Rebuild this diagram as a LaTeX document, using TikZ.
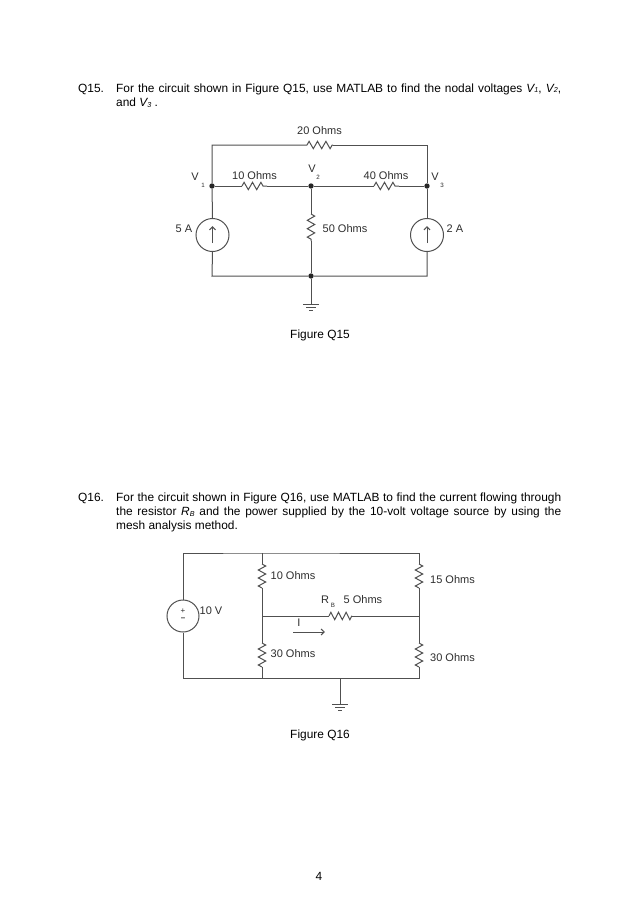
\documentclass[tikz,border=0pt]{standalone}
\usepackage{fontspec}
\setmainfont{Liberation Sans}
\usetikzlibrary{decorations.pathmorphing,arrows.meta}
\definecolor{wirecol}{HTML}{505050}
\definecolor{labcol}{HTML}{2E2E2E}
\newcommand{\jline}[1]{{\parfillskip=0pt\relax #1\par}}
\newcommand{\smallsub}[1]{\raisebox{-0.9pt}{\fontsize{7.2}{8}\selectfont #1}}
\tikzset{
  wire/.style={draw=wirecol,line width=1pt},
  res/.style={wire,line join=miter,decorate,decoration={zigzag,segment length=#1,amplitude=3.7pt}},
  res/.default=8.4pt,
  cdot/.style={circle,fill=black!85,inner sep=0pt,minimum size=5.4pt},
  source/.style={circle,draw=wirecol,line width=1pt,fill=white,inner sep=0pt,minimum size=#1},
  lab/.style={text=labcol,inner sep=0pt,font=\fontsize{11}{12}\selectfont},
  sub/.style={text=labcol,inner sep=0pt,font=\fontsize{6.2}{7}\selectfont},
  para/.style={inner sep=0pt,text width=445pt,align=justify,font=\fontsize{11.9}{14.35}\selectfont},
  body/.style={inner sep=0pt,font=\fontsize{11.9}{14}\selectfont},
  arrowline/.style={wire,-{Straight Barb[length=3.2pt,width=6pt]}},
}
\begin{document}
\begin{tikzpicture}[x=1pt,y=-1pt]
\path[fill=white,use as bounding box] (0,0) rectangle (638,903);

% ---------- text Q15
\node[body,anchor=base west] (q15) at (78,92) {Q15.};
\node[para,anchor=base west] (p15) at (116,92) {\jline{For the circuit shown in Figure Q15, use MATLAB to find the nodal voltages \textit{V\smallsub{1}}, \textit{V\smallsub{2}},}
and \textit{V\smallsub{3}} .};

% ---------- circuit Q15
\coordinate (tl) at (212,145);
\coordinate (tr) at (427,145);
\node[cdot] (n1) at (212,186) {};
\node[cdot] (n2) at (311,186) {};
\node[cdot] (n3) at (427,186) {};
\node[cdot] (n4) at (311,276) {};
\coordinate (bl) at (212,276);
\coordinate (br) at (427,276);
\node[source=33pt] (s5) at (212.5,235) {};
\node[source=33pt] (s2) at (427,235) {};
\coordinate (r20a) at (307,145); \coordinate (r20b) at (333,145);
\coordinate (r10a) at (242,186); \coordinate (r10b) at (267,186);
\coordinate (r40a) at (374,186); \coordinate (r40b) at (399,186);
\coordinate (r50a) at (311,214); \coordinate (r50b) at (311,241);
\coordinate (g1) at (311,304);

\draw[wire] (s5.north) -- (n1) -- (tl) -- (r20a);
\draw[res] (r20a) -- (r20b);
\draw[wire] (r20b) -- (tr) -- (n3) -- (s2.north);
\draw[wire] (n1) -- (r10a); \draw[res] (r10a) -- (r10b); \draw[wire] (r10b) -- (n2);
\draw[wire] (n2) -- (r40a); \draw[res] (r40a) -- (r40b); \draw[wire] (r40b) -- (n3);
\draw[wire] (n2) -- (r50a); \draw[res] (r50a) -- (r50b); \draw[wire] (r50b) -- (n4);
\draw[wire] (s5.south) -- (bl) -- (n4) -- (br) -- (s2.south);
\draw[wire] (n4) -- (g1);
\draw[wire] (303,304) -- (319,304) (306,307) -- (316,307) (309,310) -- (313,310);

\coordinate (a5a) at (212.5,243); \coordinate (a5b) at (212.5,226);
\coordinate (a2a) at (427,243); \coordinate (a2b) at (427,226);
\draw[arrowline] (a5a) -- (a5b);
\draw[arrowline] (a2a) -- (a2b);

\node[lab] (l20) at (319.5,130.5) {20 Ohms};
\node[lab] (l10) at (254.5,176) {10 Ohms};
\node[lab] (l40) at (386,176) {40 Ohms};
\node[lab] (l50) at (345,229) {50 Ohms};
\node[lab] (l5a) at (184,229) {5 A};
\node[lab] (l2a) at (455,229) {2 A};
\node[lab] (v1) at (195,177) {V};
\node[sub] (v1s) at (203,185) {1};
\node[lab] (v2) at (312,169) {V};
\node[sub] (v2s) at (318,177) {2};
\node[lab] (v3) at (435,177) {V};
\node[sub] (v3s) at (442,185) {3};
\node[body] (f15) at (320,335) {Figure Q15};

% ---------- text Q16
\node[body,anchor=base west] (q16) at (78,501) {Q16.};
\node[para,anchor=base west] (p16) at (116,501) {\jline{For the circuit shown in Figure Q16, use MATLAB to find the current flowing through}
\jline{the resistor \textit{R\smallsub{B}} and the power supplied by the 10-volt voltage source by using the}
mesh analysis method.};

% ---------- circuit Q16
\node[source=32pt] (s10) at (183,616) {};
\coordinate (ta) at (183,553);
\coordinate (tb) at (262,553);
\coordinate (tc) at (419,553);
\coordinate (ma) at (262,616);
\coordinate (mb) at (419,616);
\coordinate (ba) at (183,678);
\coordinate (bb) at (262,678);
\coordinate (bg) at (340,678);
\coordinate (bc) at (419,678);
\coordinate (g2) at (340,704);
\coordinate (q10a) at (262,564); \coordinate (q10b) at (262,588);
\coordinate (q30a) at (262,643); \coordinate (q30b) at (262,667);
\coordinate (q15a) at (419,564); \coordinate (q15b) at (419,588);
\coordinate (w30a) at (419,643); \coordinate (w30b) at (419,667);
\coordinate (q5a) at (329,616); \coordinate (q5b) at (352,616);

\draw[wire] (s10.north) -- (ta) -- (tb) -- (tc) -- (q15a);
\draw[wire] (s10.south) -- (ba) -- (bb) -- (bg) -- (bc) -- (w30b);
\draw[wire] (tb) -- (q10a); \draw[res=8pt] (q10a) -- (q10b); \draw[wire] (q10b) -- (ma);
\draw[wire] (ma) -- (q30a); \draw[res=8pt] (q30a) -- (q30b); \draw[wire] (q30b) -- (bb);
\draw[res=8pt] (q15a) -- (q15b); \draw[wire] (q15b) -- (mb);
\draw[wire] (mb) -- (w30a); \draw[res=8pt] (w30a) -- (w30b);
\draw[wire] (ma) -- (q5a); \draw[res=7.6pt] (q5a) -- (q5b); \draw[wire] (q5b) -- (mb);
\draw[wire] (bg) -- (g2);
\draw[wire] (332,704) -- (348,704) (335,707) -- (345,707) (338,710) -- (342,710);

\coordinate (ia) at (293,632); \coordinate (ib) at (325,632);
\draw[arrowline] (ia) -- (ib);

\node[lab] (i1) at (299,623) {I};
\node[lab] (l10b) at (293,576) {10 Ohms};
\node[lab] (l15) at (452.5,580) {15 Ohms};
\node[lab] (l5) at (363,599.5) {5 Ohms};
\node[lab] (rb) at (325,599.5) {R};
\node[sub] (rbs) at (333,605.5) {B};
\node[lab] (l10v) at (211,611) {10 V};
\node[lab] (l30) at (293,654) {30 Ohms};
\node[lab] (l30b) at (452.5,658) {30 Ohms};
\node[sub,font=\fontsize{8}{8}\selectfont] (plus) at (183,611) {+};
\node[sub,font=\fontsize{8}{8}\selectfont] (minus) at (183,619) {\textbf{--}};
\node[body] (f16) at (320,735) {Figure Q16};

\node[body] (pg) at (319,876) {4};
\end{tikzpicture}
\end{document}
